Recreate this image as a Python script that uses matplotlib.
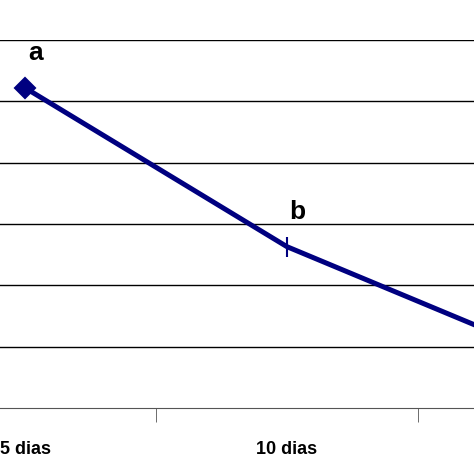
import matplotlib
matplotlib.use("Agg")
import matplotlib.pyplot as plt

categories = ["5 dias", "10 dias", "15 dias"]
values = [5.22, 2.63, 0.85]
point_labels = ["a", "b", ""]
markers = ["D", "|", None]

fig = plt.figure(figsize=(4.74, 4.74), dpi=100)
ax = fig.add_axes([-106 / 474, 66 / 474, 786 / 474, 368 / 474])
x = list(range(len(categories)))
ax.plot(x, values, color="#000080", lw=3.6, solid_capstyle="butt")
for xi, v, m, lab in zip(x, values, markers, point_labels):
    if m:
        ax.plot(xi, v, marker=m, color="#000080", ms=10 if m == "D" else 14, mew=1.5)
    if lab:
        ax.text(xi + 0.04, v + 0.45, lab, fontsize=19, fontweight="bold",
                family="Liberation Sans", ha="center")

ax.set_xlim(-0.5, 2.5)
ax.set_ylim(0, 6)
ax.set_yticks(range(1, 7))
ax.yaxis.grid(True, color="black", lw=1)
ax.tick_params(axis="y", left=False, labelleft=False)
ax.set_xticks(x)
ax.set_xticklabels(categories, fontsize=13, fontweight="bold", family="Liberation Sans")
ax.tick_params(axis="x", which="major", length=0, pad=24)
ax.set_xticks([0.5, 1.5], minor=True)
ax.tick_params(axis="x", which="minor", length=10, color="#555555")
for s in ["top", "left", "right"]:
    ax.spines[s].set_visible(False)
ax.spines["bottom"].set_color("#555555")
fig.savefig("out.png", dpi=100)
